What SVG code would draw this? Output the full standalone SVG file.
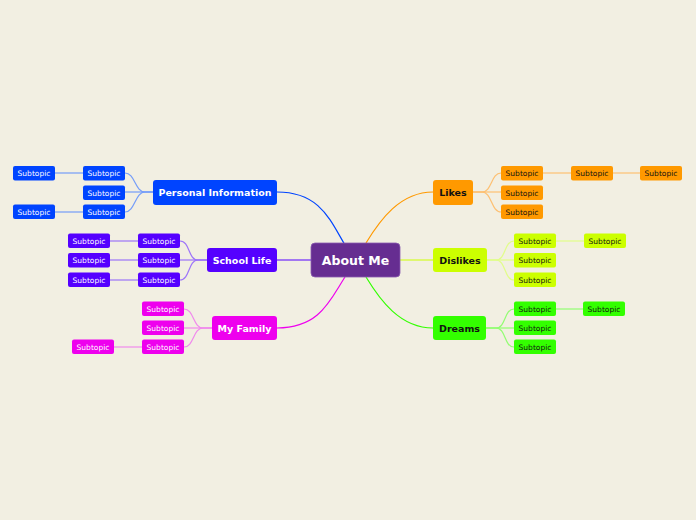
<svg xmlns="http://www.w3.org/2000/svg" width="696" height="520" viewBox="0 0 696 520">
<style>
text{font-family:"DejaVu Sans",sans-serif;text-anchor:middle;dominant-baseline:central}
.s{font-size:7.5px}
.m{font-size:9.5px;font-weight:bold}
.w{fill:#fff}.k{fill:#111}
path{fill:none;stroke-width:1.2}
</style>
<rect width="696" height="520" fill="#f2efe2"/>
<g id="connectors">
<path d="M277,192 C320,192 330,220 345,245" stroke="#0044ff" stroke-width="1.5"/>
<path d="M277,260 H311" stroke="#5500ff" stroke-width="1.5"/>
<path d="M277,328 C320,328 330,300 345,277" stroke="#ee00ee" stroke-width="1.5"/>
<path d="M366,243 C380,220 400,192 433,192" stroke="#ff9900" stroke-width="1.5"/>
<path d="M400,260 H433" stroke="#ccff00" stroke-width="1.5"/>
<path d="M366,277 C380,300 400,328 433,328" stroke="#33ff00" stroke-width="1.5"/>
<g stroke="#5588ff" opacity="0.8"><path d="M153,192 H145 C135,192 135,173 125,173"/><path d="M153,192 H125"/><path d="M153,192 H145 C135,192 135,212 125,212"/><path d="M55,173 H83"/><path d="M55,212 H83"/></g>
<g stroke="#8855ff" opacity="0.8"><path d="M207,260 H198 C188,260 190,241 180,241"/><path d="M207,260 H180"/><path d="M207,260 H198 C188,260 190,280 180,280"/><path d="M110,241 H138"/><path d="M110,260 H138"/><path d="M110,280 H138"/></g>
<g stroke="#f070f0" opacity="0.8"><path d="M212,328 H203 C193,328 194,309 184,309"/><path d="M212,328 H184"/><path d="M212,328 H203 C193,328 194,347 184,347"/><path d="M114,347 H142"/></g>
<g stroke="#ffbb66" opacity="0.9"><path d="M473,192 H482 C492,192 491,173 501,173"/><path d="M473,192 H501"/><path d="M473,192 H482 C492,192 491,212 501,212"/><path d="M543,173 H571"/><path d="M613,173 H640"/></g>
<g stroke="#e0ff80" opacity="0.9"><path d="M487,260 H496 C506,260 504,241 514,241"/><path d="M487,260 H514"/><path d="M487,260 H496 C506,260 504,280 514,280"/><path d="M556,241 H584"/></g>
<g stroke="#88ff66" opacity="0.9"><path d="M486,328 H496 C506,328 504,309 514,309"/><path d="M486,328 H514"/><path d="M486,328 H496 C506,328 504,347 514,347"/><path d="M556,309 H583"/></g>
</g>
<g id="center"><rect x="311" y="243" width="89" height="34" rx="4" fill="#662d91" stroke="#8a5cb0" stroke-width="0.8"/><text x="355.5" y="260.5" class="w" style="font-size:12.5px;font-weight:bold">About Me</text></g>
<g id="personal"><rect x="153" y="180" width="124" height="25" rx="3" fill="#0044ff"/><text x="215" y="192.5" class="m w">Personal Information</text>
<rect x="83" y="166" width="42" height="14.5" rx="2" fill="#0044ff"/><text x="104" y="173.5" class="s w">Subtopic</text>
<rect x="83" y="185.5" width="42" height="14.5" rx="2" fill="#0044ff"/><text x="104" y="193" class="s w">Subtopic</text>
<rect x="83" y="204.5" width="42" height="14.5" rx="2" fill="#0044ff"/><text x="104" y="212" class="s w">Subtopic</text>
<rect x="13" y="166" width="42" height="14.5" rx="2" fill="#0044ff"/><text x="34" y="173.5" class="s w">Subtopic</text>
<rect x="13" y="204.5" width="42" height="14.5" rx="2" fill="#0044ff"/><text x="34" y="212" class="s w">Subtopic</text></g>
<g id="school"><rect x="207" y="248" width="70" height="24" rx="3" fill="#5500ff"/><text x="242" y="260.5" class="m w">School Life</text>
<rect x="138" y="233.5" width="42" height="14.5" rx="2" fill="#5500ff"/><text x="159" y="241" class="s w">Subtopic</text>
<rect x="138" y="253" width="42" height="14.5" rx="2" fill="#5500ff"/><text x="159" y="260.5" class="s w">Subtopic</text>
<rect x="138" y="272.5" width="42" height="14.5" rx="2" fill="#5500ff"/><text x="159" y="280" class="s w">Subtopic</text>
<rect x="68" y="233.5" width="42" height="14.5" rx="2" fill="#5500ff"/><text x="89" y="241" class="s w">Subtopic</text>
<rect x="68" y="253" width="42" height="14.5" rx="2" fill="#5500ff"/><text x="89" y="260.5" class="s w">Subtopic</text>
<rect x="68" y="272.5" width="42" height="14.5" rx="2" fill="#5500ff"/><text x="89" y="280" class="s w">Subtopic</text></g>
<g id="family"><rect x="212" y="316" width="65" height="24" rx="3" fill="#ee00ee"/><text x="244.5" y="328.5" class="m w">My Family</text>
<rect x="142" y="301.5" width="42" height="14.5" rx="2" fill="#ee00ee"/><text x="163" y="309" class="s w">Subtopic</text>
<rect x="142" y="320.5" width="42" height="14.5" rx="2" fill="#ee00ee"/><text x="163" y="328" class="s w">Subtopic</text>
<rect x="142" y="339.5" width="42" height="14.5" rx="2" fill="#ee00ee"/><text x="163" y="347" class="s w">Subtopic</text>
<rect x="72" y="339.5" width="42" height="14.5" rx="2" fill="#ee00ee"/><text x="93" y="347" class="s w">Subtopic</text></g>
<g id="likes"><rect x="433" y="180" width="40" height="25" rx="3" fill="#ff9900"/><text x="453" y="192.5" class="m k">Likes</text>
<rect x="501" y="166" width="42" height="14.5" rx="2" fill="#ff9900"/><text x="522" y="173.5" class="s k">Subtopic</text>
<rect x="501" y="185.5" width="42" height="14.5" rx="2" fill="#ff9900"/><text x="522" y="193" class="s k">Subtopic</text>
<rect x="501" y="204.5" width="42" height="14.5" rx="2" fill="#ff9900"/><text x="522" y="212" class="s k">Subtopic</text>
<rect x="571" y="166" width="42" height="14.5" rx="2" fill="#ff9900"/><text x="592" y="173.5" class="s k">Subtopic</text>
<rect x="640" y="166" width="42" height="14.5" rx="2" fill="#ff9900"/><text x="661" y="173.5" class="s k">Subtopic</text></g>
<g id="dislikes"><rect x="433" y="248" width="54" height="24" rx="3" fill="#ccff00"/><text x="460" y="260.5" class="m k">Dislikes</text>
<rect x="514" y="233.5" width="42" height="14.5" rx="2" fill="#ccff00"/><text x="535" y="241" class="s k">Subtopic</text>
<rect x="514" y="253" width="42" height="14.5" rx="2" fill="#ccff00"/><text x="535" y="260.5" class="s k">Subtopic</text>
<rect x="514" y="272.5" width="42" height="14.5" rx="2" fill="#ccff00"/><text x="535" y="280" class="s k">Subtopic</text>
<rect x="584" y="233.5" width="42" height="14.5" rx="2" fill="#ccff00"/><text x="605" y="241" class="s k">Subtopic</text></g>
<g id="dreams"><rect x="433" y="316" width="53" height="24" rx="3" fill="#33ff00"/><text x="459.5" y="328.5" class="m k">Dreams</text>
<rect x="514" y="301.5" width="42" height="14.5" rx="2" fill="#33ff00"/><text x="535" y="309" class="s k">Subtopic</text>
<rect x="514" y="320.5" width="42" height="14.5" rx="2" fill="#33ff00"/><text x="535" y="328" class="s k">Subtopic</text>
<rect x="514" y="339.5" width="42" height="14.5" rx="2" fill="#33ff00"/><text x="535" y="347" class="s k">Subtopic</text>
<rect x="583" y="301.5" width="42" height="14.5" rx="2" fill="#33ff00"/><text x="604" y="309" class="s k">Subtopic</text></g>
</svg>
